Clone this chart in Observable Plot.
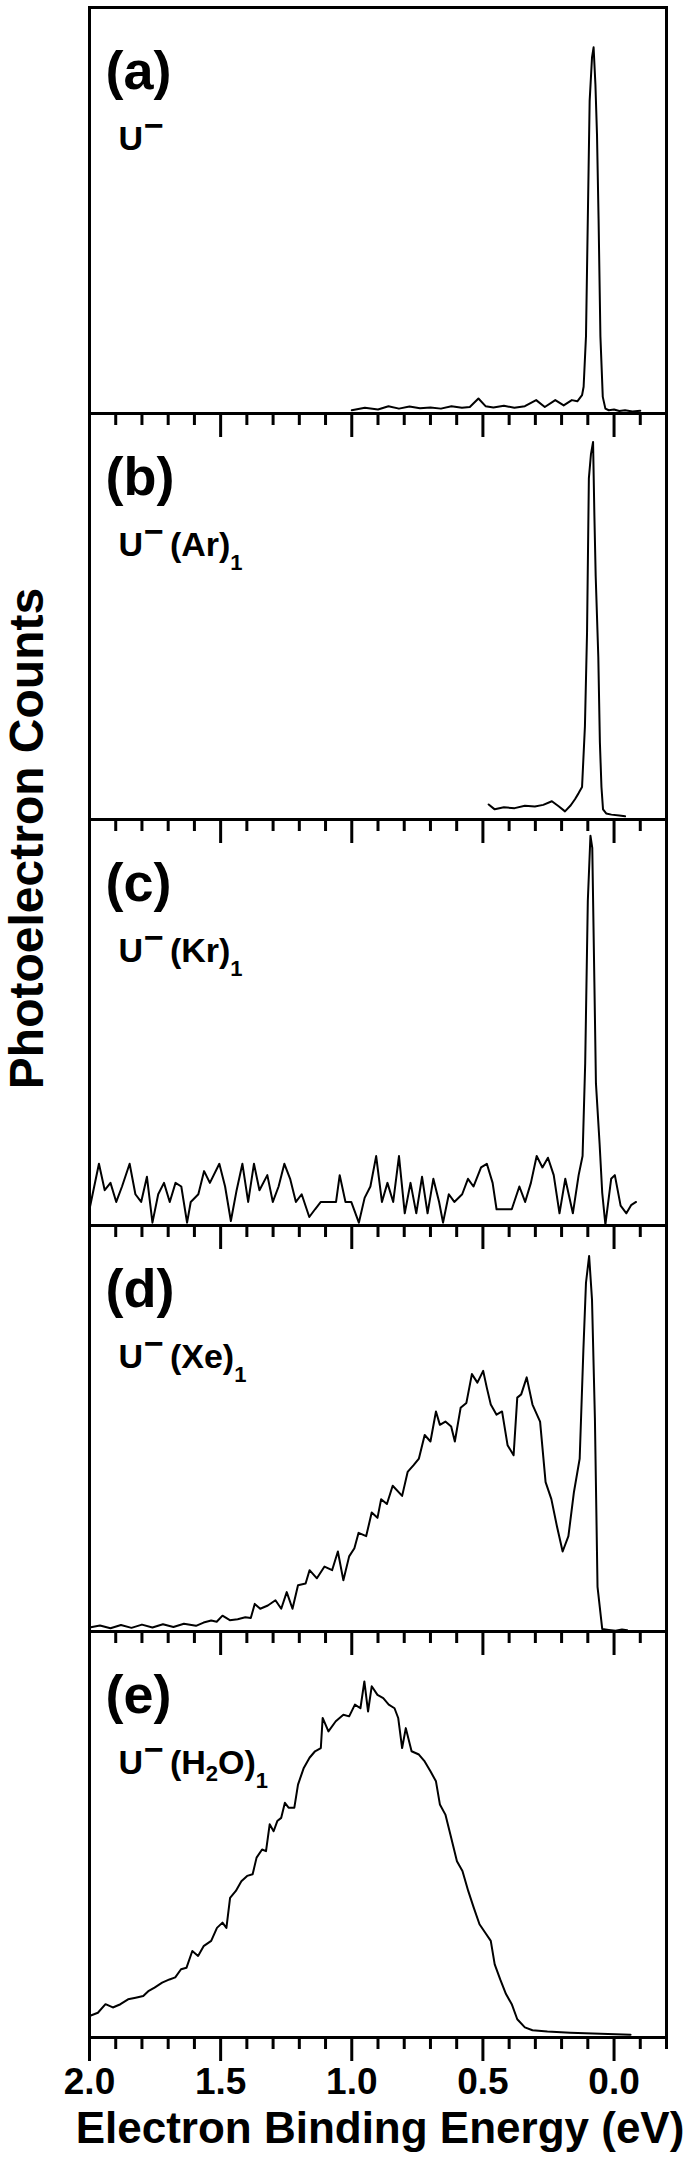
<!DOCTYPE html>
<html>
<head>
<meta charset="utf-8">
<script src="https://cdn.jsdelivr.net/npm/d3@7"></script>
<script src="https://cdn.jsdelivr.net/npm/@observablehq/plot@0.6"></script>
<style>
  html, body { margin: 0; padding: 0; background: #fff; }
  #chart { width: 700px; height: 2168px; }
</style>
</head>
<body>
<div id="chart"></div>
<script>
// ---------- categories / text ----------
const panels = ["a", "b", "c", "d", "e"];
const panelLetters = ["(a)", "(b)", "(c)", "(d)", "(e)"];
const species = ["U^−", "U^−(Ar)_1", "U^−(Kr)_1", "U^−(Xe)_1", "U^−(H_2O)_1"];
const majorTicks = [2.0, 1.5, 1.0, 0.5, 0.0];
const minorTicks = [1.9, 1.8, 1.7, 1.6, 1.4, 1.3, 1.2, 1.1, 0.9, 0.8, 0.7, 0.6, 0.4, 0.3, 0.2, 0.1, -0.1, -0.2];
const xTitle = "Electron Binding Energy (eV)";
const yTitle = "Photoelectron Counts";

// ---------- series (energy in eV, counts in % of panel height) ----------
const energyA = [1.00,0.95,0.90,0.86,0.82,0.78,0.74,0.70,0.66,0.62,0.58,0.55,0.517,0.49,0.46,0.42,0.38,0.34,0.297,0.264,0.224,0.192,0.161,0.140,0.122,0.116,0.107,0.103,0.097,0.093,0.084,0.078,0.071,0.065,0.059,0.052,0.043,0.033,0.02,0.0,-0.02,-0.042,-0.07,-0.10];
const countsA = [0.8,1.4,1.0,1.8,1.2,1.7,1.3,1.5,1.2,1.8,1.4,1.6,3.7,1.8,1.5,1.9,1.4,1.8,3.3,1.6,3.3,2.0,3.3,3.0,4.5,6.6,19,35.6,60.4,77,87.7,90.2,81,68.7,48,19,4.1,1.2,0.8,1.0,0.6,0.8,0.5,0.7];

const energyB = [0.478,0.455,0.42,0.379,0.34,0.302,0.27,0.237,0.21,0.187,0.165,0.149,0.135,0.122,0.111,0.103,0.096,0.088,0.080,0.075,0.070,0.065,0.060,0.054,0.048,0.042,0.03,0.01,-0.02,-0.042];
const countsB = [3.7,2.5,3.0,2.8,3.4,3.2,3.6,4.5,3.2,2.0,3.5,5.0,6.5,8,23,46,84,90,93,75,60,50,40,19,8,2.5,1.5,1.2,1.0,0.8];

const energyC = [2.000,1.964,1.942,1.920,1.898,1.876,1.847,1.825,1.803,1.781,1.760,1.738,1.716,1.694,1.672,1.650,1.628,1.614,1.585,1.563,1.541,1.505,1.483,1.461,1.439,1.417,1.395,1.373,1.352,1.322,1.301,1.279,1.257,1.235,1.213,1.191,1.162,1.140,1.118,1.060,1.046,1.024,1.002,0.973,0.951,0.929,0.907,0.885,0.864,0.842,0.820,0.798,0.776,0.754,0.732,0.711,0.689,0.667,0.652,0.630,0.609,0.579,0.557,0.536,0.507,0.485,0.463,0.448,0.419,0.390,0.361,0.339,0.317,0.295,0.273,0.252,0.230,0.208,0.186,0.157,0.135,0.120,0.110,0.100,0.090,0.083,0.075,0.069,0.055,0.045,0.033,0.011,-0.003,-0.025,-0.047,-0.065,-0.084];
const countsC = [4.0,15.2,8.7,10.5,5.8,9.6,15.2,7.7,5.8,12.0,0.7,7.7,10.5,5.8,10.5,9.6,0.7,5.8,7.7,13.4,10.5,15.2,9.6,1.1,8.7,15.2,5.8,15.2,8.7,12.4,5.8,9.6,15.2,11.5,5.8,7.7,2.1,4.0,5.8,5.8,12.4,5.8,5.8,0.7,6.8,9.6,17.1,5.8,10.5,5.8,17.1,3.0,10.5,3.0,12.0,3.0,11.5,5.8,0.7,7.7,5.8,7.7,11.5,9.6,14.3,15.2,10.5,4.0,4.0,4.0,9.6,5.8,10.5,17.1,14.3,16.7,12.4,3.0,11.5,3.0,12.4,17.1,40,80,96,93,60,35,20,8,0.2,11.5,12.4,4.9,3.0,5.0,5.8];

const energyD = [2.00,1.96,1.92,1.88,1.84,1.80,1.76,1.72,1.68,1.64,1.594,1.565,1.536,1.515,1.493,1.465,1.435,1.406,1.385,1.370,1.349,1.320,1.291,1.269,1.248,1.226,1.205,1.176,1.161,1.133,1.104,1.075,1.053,1.032,1.010,0.990,0.974,0.945,0.924,0.902,0.888,0.866,0.844,0.808,0.787,0.765,0.744,0.722,0.700,0.679,0.664,0.643,0.621,0.607,0.585,0.563,0.542,0.521,0.499,0.485,0.470,0.448,0.427,0.406,0.383,0.369,0.354,0.333,0.311,0.282,0.261,0.239,0.218,0.196,0.174,0.153,0.131,0.117,0.107,0.095,0.084,0.073,0.063,0.045,0.02,-0.006,-0.03,-0.05];
const countsD = [1.0,1.5,0.8,1.6,0.9,1.7,1.0,1.8,1.1,1.9,1.4,2.2,2.7,2.4,3.9,2.8,3.0,3.5,3.3,6.8,5.6,6.4,7.7,5.6,9.7,5.6,11.4,11.8,15.1,13.1,16,15.1,19.7,12.6,18.5,20.5,24.3,23.5,29.3,28,32.6,31.4,35.9,33.4,39.3,40.9,42.6,48.4,46.8,54.2,50.9,51.7,50.5,46.8,55.1,56.3,63.4,61.3,64.2,60,55.9,53.4,54.2,45.9,43.4,57.6,58.4,62.6,55.9,51.7,36.8,32.6,26,19.7,23.5,34.3,42.6,69.2,85.9,92.5,81.7,52.6,11,0.6,0.4,0.2,0.5,0.3];

const energyE = [2.000,1.968,1.939,1.911,1.882,1.853,1.824,1.795,1.774,1.752,1.723,1.695,1.673,1.651,1.630,1.608,1.586,1.565,1.536,1.514,1.493,1.478,1.464,1.442,1.421,1.399,1.378,1.363,1.342,1.327,1.313,1.298,1.284,1.269,1.255,1.241,1.219,1.205,1.183,1.161,1.140,1.118,1.111,1.089,1.061,1.032,1.010,0.988,0.967,0.952,0.938,0.924,0.902,0.880,0.859,0.837,0.823,0.808,0.794,0.772,0.744,0.722,0.700,0.679,0.664,0.643,0.621,0.599,0.578,0.556,0.535,0.513,0.491,0.470,0.455,0.434,0.412,0.390,0.369,0.340,0.311,0.254,0.167,0.081,-0.006,-0.063];
const countsE = [5.3,6.1,8.2,7.4,8.2,9.4,9.8,10.2,11.5,12.3,13.5,14.3,14.8,16.8,17.2,21.3,20.1,22.5,23.8,27,28.3,27,34.4,36.1,38.5,39.8,40.2,44.3,46.3,45.9,52.5,50.8,53.3,54.1,57.8,56.6,56.6,62.3,66.4,68.9,70.5,71.3,78.7,75.4,77.9,79.5,79.1,82,81.1,87.7,80.3,86.5,84.4,83.6,82,81.1,78.7,71.3,76.2,70.5,69.7,68,65.6,63.1,57.4,54.9,49.2,43.4,41,36.1,32,27.9,25.8,23.8,18,14.3,10.7,8.2,4.5,2.5,1.8,1.5,1.2,1.0,0.8,0.7];

// ---------- tables built from the arrays ----------
const series = [[energyA, countsA], [energyB, countsB], [energyC, countsC], [energyD, countsD], [energyE, countsE]];
const rows = panels.flatMap((p, i) => series[i][0].map((x, j) => ({panel: p, energy: x, counts: series[i][1][j]})));
const labelRows = panels.map((p, i) => ({panel: p, letter: panelLetters[i], species: species[i]}));
const innerPanels = panels.slice(1);
const lastPanel = panels[panels.length - 1];
const majorTop = d3.cross(majorTicks, innerPanels).map(([x, p]) => ({x, panel: p}));
const minorTop = d3.cross(minorTicks, innerPanels).map(([x, p]) => ({x, panel: p}));
const minorBottom = minorTicks.map(x => ({x, panel: lastPanel}));
const xTitleRow = [{panel: lastPanel, t: xTitle}];
const yTitleRow = [{panel: panels[2], t: yTitle}];

const FACET_H = 406;
const FONT = "'Liberation Sans', Arial, Helvetica, sans-serif";

const chart = Plot.plot({
  width: 700,
  height: 2168,
  marginLeft: 89,
  marginRight: 34,
  marginTop: 7,
  marginBottom: 131,
  x: {domain: [2.0, -0.2]},
  y: {domain: [0, 100], axis: null},
  fy: {domain: panels, padding: 0, axis: null},
  style: {fontFamily: FONT, fontWeight: "bold", background: "#fff", color: "#000"},
  marks: [
    Plot.line(rows, {x: "energy", y: "counts", fy: "panel", stroke: "#000", strokeWidth: 2}),
    Plot.tickX(majorTop, {x: "x", fy: "panel", stroke: "#000", strokeWidth: 3, insetBottom: FACET_H - 24}),
    Plot.tickX(minorTop, {x: "x", fy: "panel", stroke: "#000", strokeWidth: 3, insetBottom: FACET_H - 12}),
    Plot.tickX(minorBottom, {x: "x", fy: "panel", stroke: "#000", strokeWidth: 3, insetTop: FACET_H, insetBottom: -12}),
    Plot.frame({stroke: "#000", strokeWidth: 3}),
    Plot.axisX(majorTicks, {anchor: "bottom", facetAnchor: "bottom", tickSize: 24, tickPadding: 6, strokeWidth: 3, fontSize: 37, tickFormat: d => d.toFixed(1), label: null}),
    Plot.text(labelRows, {fy: "panel", text: "letter", frameAnchor: "top-left", textAnchor: "start", lineAnchor: "top", dx: 16, dy: 43, fontSize: 54, fontWeight: "bold", fill: "#000"}),
    Plot.text(labelRows, {fy: "panel", text: "species", frameAnchor: "top-left", textAnchor: "start", lineAnchor: "top", dx: 29, dy: 118, fontSize: 34, fontWeight: "bold", fill: "#000"}),
    Plot.text(xTitleRow, {fy: "panel", text: "t", frameAnchor: "bottom", textAnchor: "middle", dx: 2, dy: 105, fontSize: 44, fontWeight: "bold", fill: "#000"}),
    Plot.text(yTitleRow, {fy: "panel", text: "t", frameAnchor: "left", textAnchor: "middle", rotate: -90, dx: -62, dy: -184, fontSize: 48, fontWeight: "bold", fill: "#000"})
  ]
});

// superscript / subscript formatting of the species labels (kept as real text)
const SVGNS = "http://www.w3.org/2000/svg";
chart.querySelectorAll("text").forEach(t => {
  const s = t.textContent;
  if (!/[\^_]/.test(s)) return;
  t.textContent = "";
  let i = 0, shift = 0, lastChar = "", afterSup = false;
  while (i < s.length) {
    let kind = "n", chunk;
    if (s[i] === "^") { kind = "sup"; chunk = s[i + 1]; i += 2; }
    else if (s[i] === "_") { kind = "sub"; chunk = s[i + 1]; i += 2; }
    else { let j = i; while (j < s.length && s[j] !== "^" && s[j] !== "_") j++; chunk = s.slice(i, j); i = j; }
    const ts = document.createElementNS(SVGNS, "tspan");
    let off = 0;
    if (kind === "sup") off = -13;
    if (kind === "sub") off = lastChar === ")" ? 14 : 7;
    if (off - shift !== 0) ts.setAttribute("dy", off - shift);
    shift = off;
    if (kind === "sub") ts.setAttribute("font-size", 22);
    if (kind === "sup") ts.setAttribute("dx", 1);
    if (kind === "n" && afterSup) ts.setAttribute("dx", 6);
    afterSup = kind === "sup";
    ts.textContent = chunk;
    t.appendChild(ts);
    lastChar = chunk[chunk.length - 1];
  }
});

document.getElementById("chart").appendChild(chart);
</script>
</body>
</html>
